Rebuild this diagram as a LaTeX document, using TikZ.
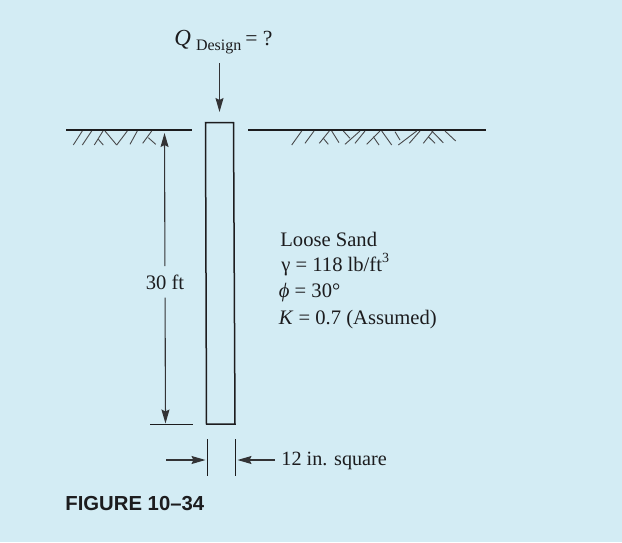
\documentclass[tikz,border=0pt]{standalone}
\usepackage{fontspec}
\setmainfont{Liberation Serif}
\newfontfamily\figfont{Liberation Sans}
\usepackage{xcolor}
\usetikzlibrary{arrows.meta, positioning}

\begin{document}
\begin{tikzpicture}[x=0.5pt, y=-0.5pt]

% ------------------------
% Colors
% ------------------------
\definecolor{colBg}{RGB}{211,236,244}
\definecolor{colInk}{RGB}{28,28,30}

% Size of the text
\def\fs{10.3} % in pt

\tikzset{
    lbl/.style={inner sep=0pt, anchor=base west, text=colInk, font=\fontsize{\fs}{12}\selectfont},
    ln/.style={draw=colInk, line width=0.75pt},
    dimln/.style={draw=colInk!90, line width=0.55pt, -{Stealth[length=7pt, width=4pt, inset=1pt]}},
    hatch/.style={draw=colInk!80, line width=0.45pt}
}

% Page background
\fill[colBg] (0,0) rectangle (622,542);

% ------------------------
% PILE AND LOAD
% ------------------------
\draw[ln] (206.5,424) -- (205.5,122.5) -- (233.5,122.5) -- (235,424) -- cycle;
\node[lbl] (qload) at (174,45.7) {\fontsize{11.5}{12}\selectfont\textit{Q}\hspace{2.5pt}\raisebox{-2.5pt}{\fontsize{8}{9}\selectfont Design}\hspace{2pt}\fontsize{10.8}{12}\selectfont= ?};
\coordinate (qstart) at (219.5,63);
\coordinate (qtip) at (219.5,112);
\draw[dimln] (qstart) -- (qtip);

% ------------------------
% GROUND LINES
% ------------------------
\coordinate (gla) at (66,130);
\coordinate (glb) at (192,130);
\coordinate (gra) at (248,130);
\coordinate (grb) at (486,130);
\draw[ln] (gla) -- (glb);
\draw[ln] (gra) -- (grb);

% Left hatch
\foreach \xa/\ya/\xb/\yb in {82.3/131/73.3/145, 91.7/131/82.3/145, 103/131/94.3/145,
    98.3/139.3/103.3/145, 105/131/116.7/145, 116.7/145/127.3/131, 137.3/131/130/144.3,
    151.7/131/142.7/143.3, 148.3/137.7/155.7/144.3} {
    \draw[hatch] (\xa,\ya) -- (\xb,\yb);
}

% Right hatch
\foreach \xa/\ya/\xb/\yb in {301.7/131/291.7/145, 314/131/305/143.3, 329.3/131/319.3/143.3,
    323.3/138.3/328.3/144.3, 331.7/131/339/142.7, 360/131/345/144.3, 343.3/131/350/138.3,
    365/131/355/143.3, 380/131/366.7/144.3, 373.3/136.7/379/145, 381.7/131/391.7/145,
    416.7/131/398.3/145, 395/131.7/400/140, 420/131/409.3/143.3, 433/131/423.3/143.3,
    428.3/136.7/435/143.3, 431.7/131/443.3/142.7, 445/131/455.7/141} {
    \draw[hatch] (\xa,\ya) -- (\xb,\yb);
}

% ------------------------
% 30 ft DIMENSION
% ------------------------
\node[lbl, anchor=base, fill=colBg, inner xsep=1pt, inner ysep=4pt] (depth) at (165,289) {30 ft};
\coordinate (depthtop) at (164.5,133);
\coordinate (depthbot) at (165.5,423.5);
\draw[dimln] (depth) -- (depthtop);
\draw[dimln] (depth) -- (depthbot);
\coordinate (basea) at (150,424.5);
\coordinate (baseb) at (193,424.5);
\draw[ln] (basea) -- (baseb);

% ------------------------
% SOIL DATA
% ------------------------
\node[lbl] (soil) at (280,246) {Loose Sand};
\node[lbl] (gam) at (281,271.7) {γ = 118 lb/ft\raisebox{4.5pt}{\fontsize{7}{8}\selectfont 3}};
\node[lbl] (phi) at (278.5,297.7) {\textit{ϕ} = 30°};
\node[lbl] (kval) at (278.5,324) {\textit{K} = 0.7 (Assumed)};

% ------------------------
% 12 in. DIMENSION
% ------------------------
\coordinate (wla) at (207.7,439);
\coordinate (wlb) at (207.7,476);
\coordinate (wra) at (235.3,439);
\coordinate (wrb) at (235.3,476);
\draw[ln] (wla) -- (wlb);
\draw[ln] (wra) -- (wrb);
\coordinate (warrowa) at (166,460);
\coordinate (warrowb) at (205.5,460);
\coordinate (warrowc) at (237.5,460);
\draw[dimln] (warrowa) -- (warrowb);
\node[lbl, font=\fontsize{10.1}{12}\selectfont] (width) at (281,465) {12 in. square};
\coordinate (warrowd) at (275,460);
\draw[dimln] (warrowd) -- (warrowc);

% ------------------------
% CAPTION
% ------------------------
\node[lbl, font=\figfont\bfseries\fontsize{10.15}{12}\selectfont] (caption) at (65,510.5) {FIGURE 10–34};

\end{tikzpicture}
\end{document}
